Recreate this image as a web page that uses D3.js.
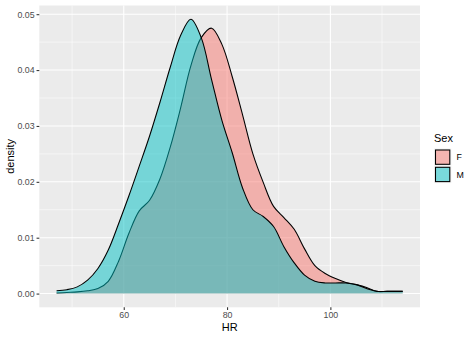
<!DOCTYPE html>
<html>
<head>
<meta charset="utf-8">
<script src="https://cdn.jsdelivr.net/npm/d3@7"></script>
<style>
  body { margin: 0; background: #fff; }
  svg { display: block; font-family: "Liberation Sans", Arial, Helvetica, sans-serif; }
</style>
</head>
<body>
<svg id="chart" width="474" height="338"></svg>
<script>
// density estimates
const hr = [47, 49, 51, 53, 55, 57, 59, 61, 63, 65, 67, 69, 71, 73, 75, 77, 79, 81, 83, 85,
            87, 89, 91, 93, 95, 97, 99, 101, 103, 105, 107, 109, 111, 114]
const densF = [0.0001, 0.0002, 0.0003, 0.0005, 0.0009, 0.0022, 0.0058, 0.0108, 0.0148, 0.0167,
               0.0205, 0.0262, 0.0332, 0.0408, 0.0458, 0.0475, 0.0446, 0.0388, 0.0320, 0.0250,
               0.0199, 0.0156, 0.0136, 0.0115, 0.0080, 0.0050, 0.0036, 0.0027, 0.0020, 0.0016,
               0.0011, 0.0004, 0.0004, 0.0004]
const densM = [0.0005, 0.0007, 0.0012, 0.0024, 0.0045, 0.0078, 0.0125, 0.0175, 0.0228, 0.0282,
               0.0342, 0.0405, 0.0462, 0.0491, 0.0458, 0.0383, 0.0310, 0.0252, 0.0189, 0.0150,
               0.0138, 0.0120, 0.0084, 0.0055, 0.0033, 0.0022, 0.0019, 0.0019, 0.0019, 0.0016,
               0.0009, 0.0004, 0.0004, 0.0004]
const groups = ['F', 'M']
const groupColors = ['#F8766D', '#00BFC4']
const xTicks = [60, 80, 100]
const xMinor = [50, 70, 90, 110]
const yTicks = [0, 0.01, 0.02, 0.03, 0.04, 0.05]

const svg = d3.select('#chart')
const panel = { left: 39.3, right: 420, top: 5.5, bottom: 307.3 }

const xRange = d3.extent(hr)
const xPad = (xRange[1] - xRange[0]) * 0.05
const x = d3.scaleLinear().domain([xRange[0] - xPad, xRange[1] + xPad]).range([panel.left, panel.right])
const yMax = d3.max(densF.concat(densM))
const y = d3.scaleLinear().domain([-yMax * 0.05, yMax * 1.05]).range([panel.bottom, panel.top])

svg.append('rect')
  .attr('x', panel.left).attr('y', panel.top)
  .attr('width', panel.right - panel.left).attr('height', panel.bottom - panel.top)
  .attr('fill', '#EBEBEB')

const yMinor = d3.range(0.005, 0.05, 0.01)
const grid = svg.append('g')
grid.selectAll('.ymin').data(yMinor).enter().append('line')
  .attr('x1', panel.left).attr('x2', panel.right)
  .attr('y1', d => y(d)).attr('y2', d => y(d))
  .attr('stroke', '#fff').attr('stroke-width', 0.53)
grid.selectAll('.xmin').data(xMinor).enter().append('line')
  .attr('y1', panel.top).attr('y2', panel.bottom)
  .attr('x1', d => x(d)).attr('x2', d => x(d))
  .attr('stroke', '#fff').attr('stroke-width', 0.53)
grid.selectAll('.ymaj').data(yTicks).enter().append('line')
  .attr('x1', panel.left).attr('x2', panel.right)
  .attr('y1', d => y(d)).attr('y2', d => y(d))
  .attr('stroke', '#fff').attr('stroke-width', 1.07)
grid.selectAll('.xmaj').data(xTicks).enter().append('line')
  .attr('y1', panel.top).attr('y2', panel.bottom)
  .attr('x1', d => x(d)).attr('x2', d => x(d))
  .attr('stroke', '#fff').attr('stroke-width', 1.07)

const series = [densF, densM].map((vals, i) => ({
  group: groups[i],
  color: groupColors[i],
  points: hr.map((h, j) => [h, vals[j]])
}))

const area = d3.area().curve(d3.curveCatmullRom)
  .x(d => x(d[0])).y0(y(0)).y1(d => y(d[1]))
const line = d3.line().curve(d3.curveCatmullRom)
  .x(d => x(d[0])).y(d => y(d[1]))

const dens = svg.append('g')
series.forEach(s => {
  dens.append('path').attr('d', area(s.points))
    .attr('fill', s.color).attr('fill-opacity', 0.5)
  dens.append('path').attr('d', line(s.points))
    .attr('fill', 'none').attr('stroke', '#000').attr('stroke-width', 1.07)
})

// axes
const xAxis = svg.append('g')
  .attr('transform', `translate(0,${panel.bottom})`)
  .call(d3.axisBottom(x).tickValues(xTicks).tickSize(2.75).tickPadding(2))
const yAxis = svg.append('g')
  .attr('transform', `translate(${panel.left},0)`)
  .call(d3.axisLeft(y).tickValues(yTicks).tickSize(2.75).tickPadding(2)
    .tickFormat(d3.format('.2f')))
;[xAxis, yAxis].forEach(a => {
  a.select('.domain').remove()
  a.selectAll('line').attr('stroke', '#333').attr('stroke-width', 1.07)
  a.selectAll('text').attr('fill', '#4D4D4D').style('font-size', '8.8px')
    .style('font-family', '"Liberation Sans", Arial, sans-serif')
})

svg.append('text')
  .attr('x', (panel.left + panel.right) / 2).attr('y', 331)
  .attr('text-anchor', 'middle').style('font-size', '11px').attr('fill', '#000')
  .text('HR')
svg.append('text')
  .attr('transform', `translate(14,${(panel.top + panel.bottom) / 2}) rotate(-90)`)
  .attr('text-anchor', 'middle').style('font-size', '11px').attr('fill', '#000')
  .text('density')

// legend
const legend = svg.append('g').attr('transform', 'translate(434,131)')
legend.append('text').attr('x', 0).attr('y', 11)
  .style('font-size', '11px').attr('fill', '#000').text('Sex')
const keys = legend.selectAll('.key').data(series).enter().append('g')
  .attr('transform', (d, i) => `translate(0,${17.5 + i * 17.3})`)
keys.append('rect').attr('width', 17.3).attr('height', 17.3).attr('fill', '#F2F2F2')
keys.append('rect').attr('x', 1.5).attr('y', 1.5).attr('width', 14.3).attr('height', 14.3)
  .attr('fill', d => d.color).attr('fill-opacity', 0.5)
  .attr('stroke', '#000').attr('stroke-width', 1.07)
keys.append('text').attr('x', 22.5).attr('y', 11.8)
  .style('font-size', '8.8px').attr('fill', '#000').text(d => d.group)
</script>
</body>
</html>
